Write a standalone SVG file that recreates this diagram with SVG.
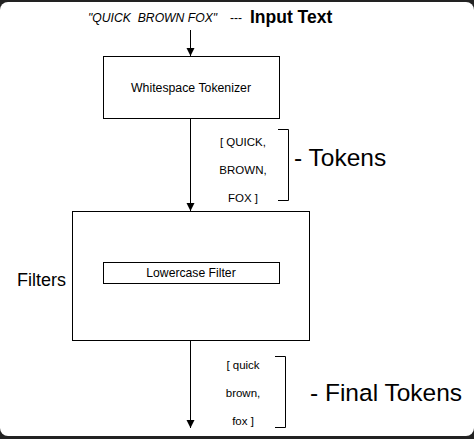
<svg xmlns="http://www.w3.org/2000/svg" width="474" height="439" viewBox="0 0 474 439">
<defs>
<marker id="ah" markerWidth="10" markerHeight="10" refX="8" refY="5" orient="auto" markerUnits="userSpaceOnUse">
<path d="M0,1 L8,5 L0,9 Z" fill="#000"/>
</marker>
<style>
text{font-family:"Liberation Sans",Arial,sans-serif;fill:#000}
.box{fill:#fff;stroke:#000;stroke-width:1}
.conn{stroke:#000;stroke-width:1;fill:none}
.sm{font-size:11.5px;text-anchor:middle}
.big{font-size:24.5px}
</style>
</defs>
<rect x="0" y="0" width="474" height="439" fill="#222"/>
<rect x="0" y="2" width="474" height="434" rx="8" fill="#fff"/>
<g id="input">
<text x="88" y="22" font-size="12.2" font-style="italic" xml:space="preserve">"QUICK  BROWN FOX"</text>
<text x="230" y="22" font-size="12">---</text>
<text x="250" y="23" font-size="17.5" font-weight="bold">Input Text</text>
</g>
<g id="tokenizer">
<rect class="box" x="103.5" y="56.5" width="176" height="62"/>
<text x="191" y="92" font-size="12.3" text-anchor="middle">Whitespace Tokenizer</text>
</g>
<g id="tokens">
<text class="sm" x="243" y="146">[ QUICK,</text>
<text class="sm" x="243" y="174">BROWN,</text>
<text class="sm" x="243" y="202">FOX ]</text>
<path class="conn" d="M278,129.5 H288.5 V200.5 H278"/>
<text class="big" x="294" y="166">- Tokens</text>
</g>
<g id="filters">
<rect class="box" x="72.5" y="211.5" width="237" height="129"/>
<text x="17" y="286" font-size="18">Filters</text>
</g>
<g id="lowercase">
<rect class="box" x="103.5" y="262.5" width="176" height="21"/>
<text x="191" y="277" font-size="12.2" text-anchor="middle">Lowercase Filter</text>
</g>
<g id="final">
<text class="sm" x="243" y="369">[ quick</text>
<text class="sm" x="243" y="397">brown,</text>
<text class="sm" x="243" y="425">fox ]</text>
<path class="conn" d="M275,356.5 H285.5 V427.5 H275"/>
<text class="big" x="310" y="401">- Final Tokens</text>
</g>
<g id="connectors">
<line class="conn" x1="190.5" y1="30" x2="190.5" y2="56" marker-end="url(#ah)"/>
<line class="conn" x1="190.5" y1="118" x2="190.5" y2="211" marker-end="url(#ah)"/>
<line class="conn" x1="190.5" y1="341" x2="190.5" y2="428" marker-end="url(#ah)"/>
</g>
</svg>
